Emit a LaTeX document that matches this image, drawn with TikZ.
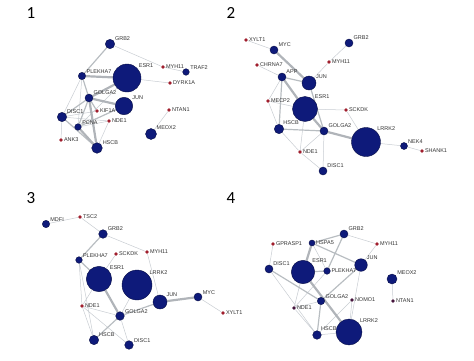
\documentclass[tikz,border=0pt]{standalone}
\usepackage{fontspec}
\setmainfont{Liberation Sans}
\newfontfamily\numfont{Carlito}
\usetikzlibrary{backgrounds}

\begin{document}
\begin{tikzpicture}[x=1pt, y=-1pt,
  hub/.style={circle, draw=hubline, fill=hubcolor, line width=0.4pt, inner sep=0pt},
  gene/.style={circle, fill=genecolor, inner sep=0pt, minimum size=3.6pt},
  lbl/.style={font=\fontsize{5.5}{6}\selectfont, text=labelcolor, inner sep=0.8pt},
  link/.style={draw=edgecolor, line width=0.5pt},
  bond/.style={draw=edgecolor!92!black, line width=1.2pt},
  tie/.style={draw=edgecolor!88!black, line width=2.2pt},
  panel/.style={font=\numfont\fontsize{17}{17}\selectfont, text=black}]
  % Define colors
  \definecolor{hubcolor}{RGB}{14,26,122}      % Navy
  \definecolor{hubline}{RGB}{8,14,70}         % Dark navy
  \definecolor{genecolor}{RGB}{160,30,45}     % Dark red
  \definecolor{edgecolor}{RGB}{200,205,210}   % Light gray
  \definecolor{labelcolor}{RGB}{50,50,50}     % Dark gray

  \useasboundingbox (0,0) rectangle (474,360);

  % Panel numbers
  \node[panel] (numA) at (31,13) {1};
  \node[panel] (numB) at (231,13) {2};
  \node[panel] (numC) at (31,198) {3};
  \node[panel] (numD) at (231,198) {4};

  % Panel 1
  \node[hub, minimum size=9.4pt, label={[lbl]35:GRB2}] (grbA) at (110,44) {};
  \node[hub, minimum size=28pt, label={[lbl]40:ESR1}] (esrA) at (127,78) {};
  \node[gene, label={[lbl]0:MYH11}] (myhA) at (163,67) {};
  \node[hub, minimum size=6.6pt, label={[lbl]20:TRAF2}] (trfA) at (186,72) {};
  \node[gene, label={[lbl]0:DYRK1A}] (dyrA) at (170,83) {};
  \node[hub, minimum size=7.4pt, label={[lbl]20:PLEKHA7}] (plkA) at (82,76) {};
  \node[hub, minimum size=8pt, label={[lbl]30:GOLGA2}] (golA) at (89,98) {};
  \node[hub, minimum size=17.4pt, label={[lbl]35:JUN}] (junA) at (124,106) {};
  \node[gene, label={[lbl]0:KIF1A}] (kifA) at (97,111) {};
  \node[hub, minimum size=9.4pt, label={[lbl]30:DISC1}] (disA) at (62,117) {};
  \node[gene, label={[lbl]0:NDE1}] (ndeA) at (109,121) {};
  \node[hub, minimum size=6.6pt, label={[lbl]20:PCNA}] (pcnA) at (78,127) {};
  \node[gene, label={[lbl]0:ANK3}] (ankA) at (61,140) {};
  \node[hub, minimum size=10.6pt, label={[lbl]30:HSCB}] (hscA) at (97,148) {};
  \node[gene, label={[lbl]0:NTAN1}] (ntnA) at (169,110) {};
  \node[hub, minimum size=11pt, label={[lbl]35:MEOX2}] (meoA) at (151,134) {};

  % Panel 2
  \node[gene, label={[lbl]0:XYLT1}] (xylB) at (246,40) {};
  \node[hub, minimum size=8pt, label={[lbl]30:MYC}] (mycB) at (274,50) {};
  \node[hub, minimum size=8pt, label={[lbl]30:GRB2}] (grbB) at (349,43) {};
  \node[gene, label={[lbl]0:CHRNA7}] (chrB) at (257,65) {};
  \node[gene, label={[lbl]0:MYH11}] (myhB) at (329,62) {};
  \node[hub, minimum size=8pt, label={[lbl]35:APP}] (appB) at (282,77) {};
  \node[hub, minimum size=14pt, label={[lbl]30:JUN}] (junB) at (309,83) {};
  \node[gene, label={[lbl]0:MECP2}] (mecB) at (268,101) {};
  \node[hub, minimum size=25pt, label={[lbl]45:ESR1}] (esrB) at (305,109) {};
  \node[gene, label={[lbl]0:SCKDK}] (sckB) at (346,110) {};
  \node[hub, minimum size=9.4pt, label={[lbl]45:HSCB}] (hscB) at (279,129) {};
  \node[hub, minimum size=8pt, label={[lbl]30:GOLGA2}] (golB) at (324,131) {};
  \node[hub, minimum size=29pt, label={[lbl]45:LRRK2}] (lrrB) at (366,142) {};
  \node[hub, minimum size=7pt, label={[lbl]30:NEK4}] (nekB) at (404,146) {};
  \node[gene, label={[lbl]0:SHANK1}] (shaB) at (422,151) {};
  \node[gene, label={[lbl]0:NDE1}] (ndeB) at (300,152) {};
  \node[hub, minimum size=8pt, label={[lbl]35:DISC1}] (disB) at (323,171) {};

  % Panel 3
  \node[hub, minimum size=7.4pt, label={[lbl]30:MDFI}] (mdfC) at (46,224) {};
  \node[gene, label={[lbl]0:TSC2}] (tscC) at (80,217) {};
  \node[hub, minimum size=8.6pt, label={[lbl]30:GRB2}] (grbC) at (103,234) {};
  \node[gene, label={[lbl]0:SCKDK}] (sckC) at (116,254) {};
  \node[gene, label={[lbl]0:MYH11}] (myhC) at (147,252) {};
  \node[hub, minimum size=6.6pt, label={[lbl]30:PLEKHA7}] (plkC) at (79,260) {};
  \node[hub, minimum size=25.4pt, label={[lbl]40:ESR1}] (esrC) at (99,279) {};
  \node[hub, minimum size=30pt, label={[lbl]40:LRRK2}] (lrrC) at (137,285) {};
  \node[hub, minimum size=14pt, label={[lbl]40:JUN}] (junC) at (160,302) {};
  \node[hub, minimum size=8pt, label={[lbl]25:MYC}] (mycC) at (198,297) {};
  \node[gene, label={[lbl]0:XYLT1}] (xylC) at (223,313) {};
  \node[gene, label={[lbl]0:NDE1}] (ndeC) at (82,306) {};
  \node[hub, minimum size=8.6pt, label={[lbl]25:GOLGA2}] (golC) at (120,316) {};
  \node[hub, minimum size=9.4pt, label={[lbl]30:HSCB}] (hscC) at (94,340) {};
  \node[hub, minimum size=8.6pt, label={[lbl]20:DISC1}] (disC) at (129,345) {};

  % Panel 4
  \node[hub, minimum size=8pt, label={[lbl]30:GRB2}] (grbD) at (344,234) {};
  \node[gene, label={[lbl]0:GPRASP1}] (gprD) at (273,244) {};
  \node[hub, minimum size=6pt, label={[lbl]0:HSPA5}] (hspD) at (312,243) {};
  \node[gene, label={[lbl]0:MYH11}] (myhD) at (377,244) {};
  \node[hub, minimum size=8pt, label={[lbl]35:DISC1}] (disD) at (269,269) {};
  \node[hub, minimum size=23.4pt, label={[lbl]45:ESR1}] (esrD) at (303,272) {};
  \node[hub, minimum size=6.6pt, label={[lbl]0:PLEKHA7}] (plkD) at (327,271) {};
  \node[hub, minimum size=12.6pt, label={[lbl]40:JUN}] (junD) at (361,265) {};
  \node[hub, minimum size=10pt, label={[lbl]35:MEOX2}] (meoD) at (392,279) {};
  \node[hub, minimum size=7.4pt, label={[lbl]20:GOLGA2}] (golD) at (321,301) {};
  \node[gene, fill=hubline!60!genecolor, label={[lbl]0:NOMO1}] (nomD) at (352,300) {};
  \node[gene, fill=hubline!60!genecolor, label={[lbl]0:NTAN1}] (ntnD) at (393,301) {};
  \node[gene, fill=hubline!60!genecolor, label={[lbl]0:NDE1}] (ndeD) at (294,308) {};
  \node[hub, minimum size=8.6pt, label={[lbl]45:HSCB}] (hscD) at (317,335) {};
  \node[hub, minimum size=26pt, label={[lbl]40:LRRK2}] (lrrD) at (349,332) {};

  \begin{scope}[on background layer]
    % Panel 1 edges
    \draw[link] (grbA) -- (myhA) (esrA) -- (dyrA) (myhA) -- (trfA) (ntnA) -- (meoA)
      (disA) -- (ankA) (disA) -- (ndeA) (disA) -- (kifA) (pcnA) -- (ndeA)
      (hscA) -- (ndeA) (plkA) -- (disA) (plkA) -- (pcnA) (esrA) -- (pcnA);
    \draw[bond] (grbA) -- (plkA) (plkA) -- (golA) (golA) -- (disA) (golA) -- (pcnA)
      (disA) -- (hscA) (golA) -- (kifA) (pcnA) -- (junA);
    \draw[tie] (esrA) -- (plkA) (esrA) -- (golA) (golA) -- (junA) (golA) -- (hscA)
      (pcnA) -- (hscA);

    % Panel 2 edges
    \draw[link] (xylB) -- (mycB) (chrB) -- (appB) (grbB) -- (myhB) (myhB) -- (junB)
      (appB) -- (mecB) (mecB) -- (esrB) (esrB) -- (sckB) (sckB) -- (lrrB)
      (esrB) -- (ndeB) (hscB) -- (ndeB) (golB) -- (ndeB) (ndeB) -- (disB)
      (golB) -- (disB) (lrrB) -- (nekB) (nekB) -- (shaB) (hscB) -- (mecB);
    \draw[bond] (appB) -- (junB) (junB) -- (golB) (hscB) -- (golB) (appB) -- (hscB);
    \draw[tie] (mycB) -- (junB) (appB) -- (esrB) (esrB) -- (golB) (golB) -- (lrrB);

    % Panel 3 edges
    \draw[link] (mdfC) -- (tscC) (tscC) -- (grbC) (grbC) -- (myhC) (myhC) -- (junC)
      (sckC) -- (esrC) (plkC) -- (ndeC) (plkC) -- (hscC) (ndeC) -- (golC)
      (ndeC) -- (hscC) (ndeC) -- (disC) (esrC) -- (ndeC) (golC) -- (disC)
      (mycC) -- (xylC) (lrrC) -- (golC);
    \draw[bond] (grbC) -- (plkC) (plkC) -- (esrC) (junC) -- (golC) (golC) -- (hscC);
    \draw[tie] (esrC) -- (golC) (junC) -- (mycC);

    % Panel 4 edges
    \draw[link] (gprD) -- (disD) (grbD) -- (myhD) (myhD) -- (junD) (hspD) -- (plkD)
      (disD) -- (hscD) (esrD) -- (ndeD) (ndeD) -- (golD) (nomD) -- (hscD)
      (junD) -- (lrrD) (hscD) -- (lrrD) (meoD) -- (ntnD) (ndeD) -- (hscD)
      (nomD) -- (lrrD) (plkD) -- (ndeD);
    \draw[bond] (hspD) -- (grbD) (hspD) -- (junD) (grbD) -- (plkD) (junD) -- (golD)
      (golD) -- (hscD) (disD) -- (golD) (esrD) -- (plkD);
    \draw[tie] (hspD) -- (esrD) (esrD) -- (lrrD);
  \end{scope}
\end{tikzpicture}
\end{document}
